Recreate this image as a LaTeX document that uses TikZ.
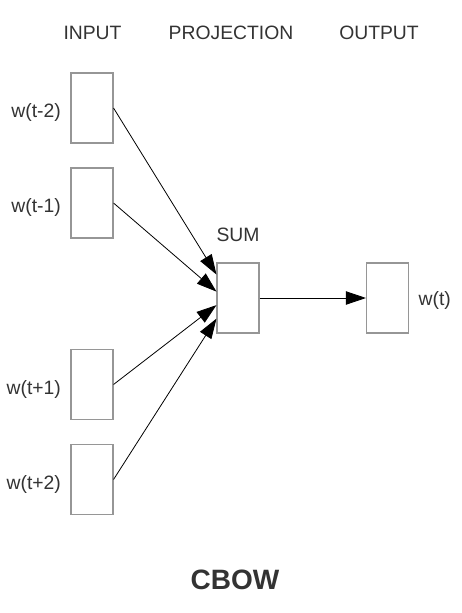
\documentclass[tikz,border=0pt]{standalone}
\usepackage{fontspec}
\setmainfont{Liberation Sans}
\usetikzlibrary{positioning,calc,arrows.meta}
\definecolor{labelgray}{RGB}{51,51,51}
\definecolor{boxgray}{RGB}{150,150,150}

\begin{document}
\begin{tikzpicture}[x=0.75pt, y=-0.75pt,
    unit/.style={rectangle, minimum width=31.5pt, minimum height=52.5pt, draw=boxgray, line width=0.8pt, inner sep=0pt},
    lbl/.style={font=\fontsize{14.5}{17}\selectfont, text=labelgray, inner sep=0pt},
    link/.style={-{Triangle[length=15pt, width=10pt]}, black, line width=0.6pt}
]
\useasboundingbox (0,0) rectangle (461,613);

% Column headers
\node[lbl] (hin) at (92.5, 32.5) {INPUT};
\node[lbl] (hproj) at (231, 32.5) {PROJECTION};
\node[lbl] (hout) at (379, 32.5) {OUTPUT};

% Context words
\foreach \n/\y/\txt in {1/108/w(t-2), 2/203/w(t-1), 3/384.5/w(t+1), 4/479.5/w(t+2)} {
    \node[unit] (in\n) at (92, \y) {};
    \node[lbl, left=7pt of in\n, yshift=-3.5pt] (lab\n) {\txt};
}

% Projection and output
\node[unit] (sum) at (238, 298) {};
\node[lbl, above=15.5pt of sum] (sumlab) {SUM};
\node[unit] (out) at (387.5, 298) {};
\node[lbl, right=7pt of out, yshift=-2pt] (outlab) {w(t)};

% Connections
\foreach \n/\f in {1/0.17, 2/0.41, 3/0.6, 4/0.79} {
    \draw[link] (in\n.east) -- ($(sum.north west)!\f!(sum.south west)$);
}
\draw[link] (sum) -- (out);

% Title
\node[font=\bfseries\fontsize{21}{25}\selectfont, text=labelgray] (title) at (235, 580) {CBOW};

\end{tikzpicture}
\end{document}
